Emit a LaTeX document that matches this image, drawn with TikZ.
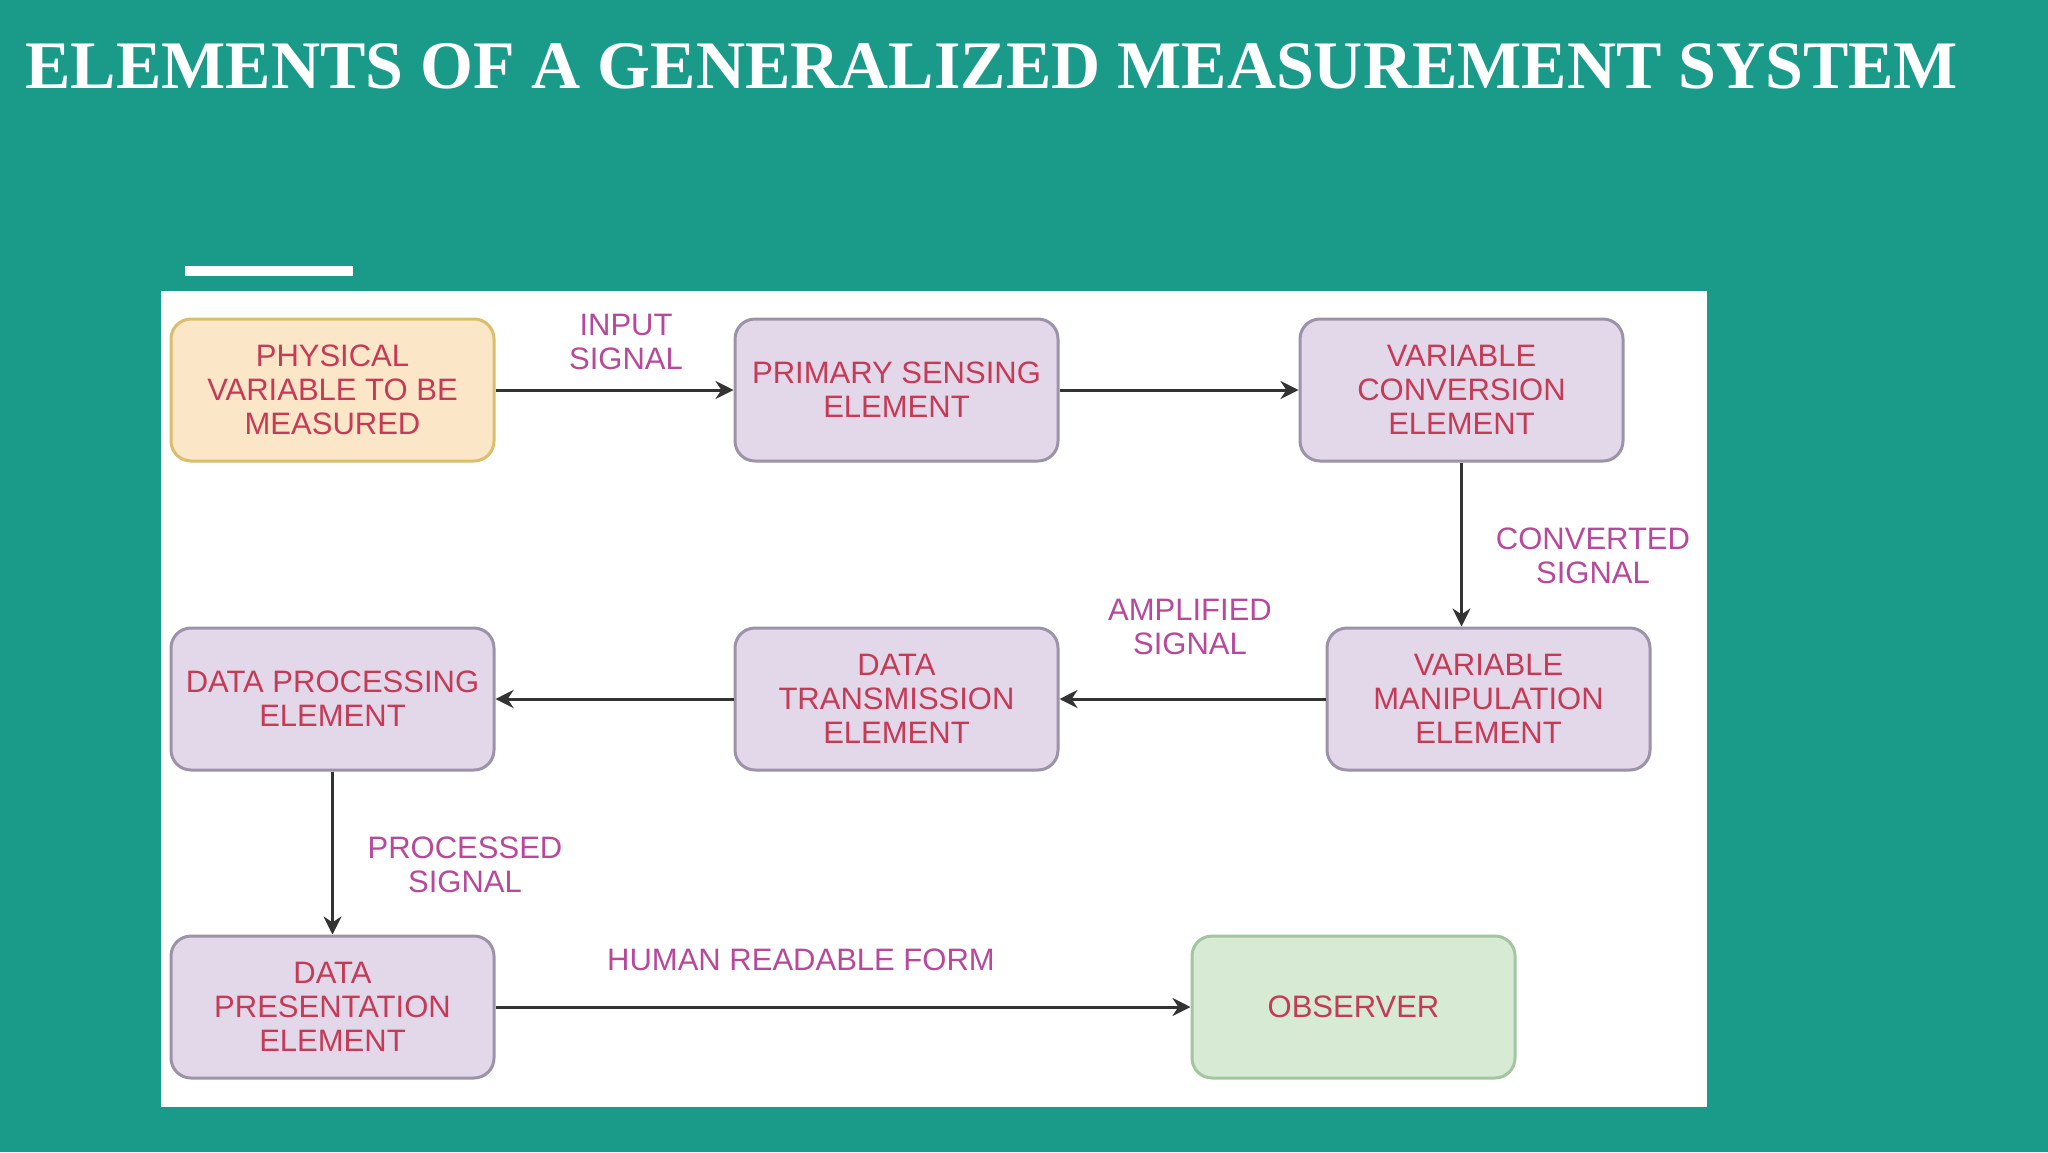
\documentclass[tikz,border=0pt]{standalone}
\usepackage{fontspec}
\usetikzlibrary{arrows.meta}
\newfontfamily\boxfont{Liberation Sans}
\newfontfamily\titlefont{Liberation Serif}
\definecolor{bgteal}{HTML}{1A9A88}
\definecolor{boxtext}{HTML}{C53A55}
\definecolor{sigtext}{HTML}{B8489A}
\definecolor{purplefill}{HTML}{E3D8EA}
\definecolor{purpleline}{HTML}{9C93A8}
\definecolor{orangefill}{HTML}{FCE6C8}
\definecolor{orangeline}{HTML}{D9BE6E}
\definecolor{greenfill}{HTML}{D6EAD4}
\definecolor{greenline}{HTML}{A3C6A0}
\tikzset{
  element/.style={rounded corners=20pt, draw=purpleline, fill=purplefill, line width=3pt,
    minimum width=323pt, minimum height=142pt, inner sep=2pt, align=center,
    text=boxtext, font=\boxfont\fontsize{31}{34}\selectfont},
  source/.style={element, draw=orangeline, fill=orangefill},
  sink/.style={element, draw=greenline, fill=greenfill},
  signal/.style={align=center, text=sigtext, font=\boxfont\fontsize{31}{34}\selectfont},
  flow/.style={line width=3pt, draw=black!80, -{Stealth[length=18pt,width=18pt]}}
}
\begin{document}
\begin{tikzpicture}[x=1pt,y=-1pt]
  \fill[bgteal] (0,0) rectangle (2048,1152);
  \node[anchor=base west, text=white, font=\titlefont\bfseries\fontsize{68}{72}\selectfont] (title) at (22,88) {ELEMENTS OF A GENERALIZED MEASUREMENT SYSTEM};
  \fill[white] (185,266) rectangle (353,276);
  \fill[white] (161,291) rectangle (1707,1107);

  % top row
  \node[source] (phys) at (332.5,390) {PHYSICAL\\VARIABLE TO BE\\MEASURED};
  \node[element] (primary) at (896.5,390) {PRIMARY SENSING\\ELEMENT};
  \node[element] (conv) at (1461.5,390) {VARIABLE\\CONVERSION\\ELEMENT};

  % middle row
  \node[element] (manip) at (1488.5,699) {VARIABLE\\MANIPULATION\\ELEMENT};
  \node[element] (trans) at (896.5,699) {DATA\\TRANSMISSION\\ELEMENT};
  \node[element] (proc) at (332.5,699) {DATA PROCESSING\\ELEMENT};

  % bottom row
  \node[element] (pres) at (332.5,1007) {DATA\\PRESENTATION\\ELEMENT};
  \node[sink] (obs) at (1353.5,1007) {OBSERVER};

  % signal labels
  \node[signal] (insig) at (626,342) {INPUT\\SIGNAL};
  \node[signal] (convsig) at (1593,556) {CONVERTED\\SIGNAL};
  \node[signal] (ampsig) at (1190,627) {AMPLIFIED\\SIGNAL};
  \node[signal] (procsig) at (465,865) {PROCESSED\\SIGNAL};
  \node[signal] (humsig) at (801,960) {HUMAN READABLE FORM};

  % connectors
  \draw[flow] (phys) -- (primary);
  \draw[flow] (primary) -- (conv);
  \draw[flow] (conv) -- (conv |- manip.north);
  \draw[flow] (manip) -- (trans);
  \draw[flow] (trans) -- (proc);
  \draw[flow] (proc) -- (pres);
  \draw[flow] (pres) -- (obs);
\end{tikzpicture}
\end{document}
